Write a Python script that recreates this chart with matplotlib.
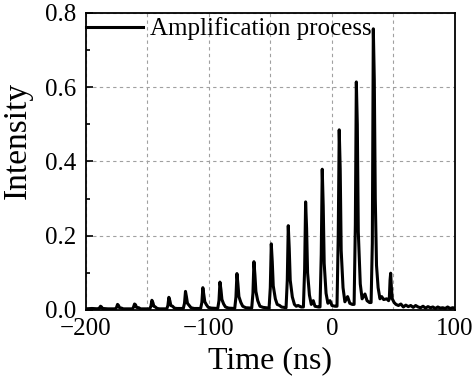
import matplotlib
matplotlib.use("Agg")
import matplotlib.pyplot as plt
from matplotlib.ticker import MultipleLocator

# trace (time in ns, intensity)
time_ns = [
    -200, -195, -189.5, -188.8, -188, -187.2, -186.4, -182,
    -176, -175, -174.2, -173.4, -172.6, -171, -169.5,
    -162, -161.2, -160.4, -159.6, -158.8, -157, -155.5,
    -148, -147.1, -146.3, -145.5, -144.7, -143.5, -142, -140,
    -134.2, -133.3, -132.5, -131.7, -130.9, -129.5, -128, -126,
    -120.8, -119.8, -119, -118.2, -117.4, -116, -114.5, -112,
    -106.7, -105.7, -104.9, -104.1, -103.3, -102, -100.5, -98,
    -92.8, -91.8, -91, -90.2, -89.4, -88, -86.5, -84,
    -79, -78, -77.2, -76.4, -75.6, -74, -72.5, -70,
    -65.2, -64.2, -63.4, -62.6, -61.8, -60.3, -58.5, -56,
    -51.1, -50.1, -49.3, -48.5, -47.7, -46, -44.5, -42.5, -41,
    -37.3, -36.3, -35.5, -34.7, -33.9, -32.2, -30.5, -29, -27.5, -25,
    -23.2, -22.2, -21.4, -20.6, -19.8, -18.3, -16.8, -15.2, -13.8, -11,
    -9.7, -8.7, -7.9, -7.1, -6.3, -4.8, -3.3, -1.6, 0, 2.5,
    4.1, 5.1, 5.9, 6.7, 7.5, 9, 10.5, 12.7, 14.5, 16.5,
    18, 19, 19.8, 20.6, 21.4, 23, 24.5, 26.8, 28.5, 30.5,
    31.8, 32.8, 33.6, 34.4, 35.2, 36.2, 37.5, 39, 40.4, 42, 44.5, 46,
    46.6, 47.2, 47.7, 48.3, 49, 50.5, 52,
    54, 56, 58, 60, 62, 64, 66, 68, 70, 72, 74, 76, 78, 80,
    82, 84, 86, 88, 90, 92, 94, 96, 98, 100,
]
intensity = [
    0.003, 0.004, 0.003, 0.006, 0.010, 0.008, 0.004, 0.003,
    0.003, 0.007, 0.015, 0.012, 0.006, 0.005, 0.003,
    0.003, 0.008, 0.016, 0.014, 0.007, 0.006, 0.003,
    0.003, 0.010, 0.026, 0.020, 0.010, 0.008, 0.004, 0.003,
    0.003, 0.012, 0.034, 0.025, 0.012, 0.010, 0.005, 0.004,
    0.004, 0.018, 0.050, 0.035, 0.018, 0.012, 0.006, 0.004,
    0.004, 0.020, 0.060, 0.042, 0.022, 0.014, 0.007, 0.005,
    0.004, 0.025, 0.075, 0.055, 0.028, 0.016, 0.008, 0.005,
    0.004, 0.035, 0.098, 0.070, 0.036, 0.020, 0.010, 0.006,
    0.005, 0.045, 0.130, 0.095, 0.050, 0.025, 0.010, 0.007,
    0.005, 0.060, 0.178, 0.130, 0.065, 0.030, 0.015, 0.012, 0.008,
    0.006, 0.080, 0.227, 0.165, 0.080, 0.035, 0.015, 0.010, 0.012, 0.008,
    0.008, 0.110, 0.291, 0.220, 0.100, 0.040, 0.015, 0.025, 0.010, 0.008,
    0.008, 0.150, 0.379, 0.280, 0.125, 0.045, 0.018, 0.025, 0.012, 0.010,
    0.010, 0.200, 0.485, 0.380, 0.160, 0.060, 0.022, 0.036, 0.018, 0.015,
    0.015, 0.230, 0.614, 0.500, 0.210, 0.070, 0.030, 0.043, 0.025, 0.020,
    0.020, 0.180, 0.757, 0.620, 0.300, 0.120, 0.060, 0.030, 0.036, 0.028, 0.030, 0.025,
    0.030, 0.080, 0.099, 0.060, 0.030, 0.020, 0.015,
    0.012, 0.016, 0.008, 0.013, 0.009, 0.012, 0.007, 0.012, 0.008, 0.006,
    0.010, 0.005, 0.009, 0.006, 0.008, 0.004, 0.008, 0.005, 0.006, 0.004,
    0.008, 0.004, 0.006, 0.005,
]

plt.rcParams['font.family'] = ['Liberation Serif', 'DejaVu Serif']
plt.rcParams['mathtext.fontset'] = 'stix'

fig = plt.figure(figsize=(4.74, 3.78), dpi=100)
ax = fig.add_axes([0.181, 0.180, 0.779, 0.786])

ax.plot(time_ns, intensity, color='black', lw=2.2, label='Amplification process')

ax.set_xlim(-200, 100)
ax.set_ylim(0, 0.8)
ax.xaxis.set_major_locator(MultipleLocator(100))
ax.xaxis.set_minor_locator(MultipleLocator(50))
ax.yaxis.set_major_locator(MultipleLocator(0.2))
ax.yaxis.set_minor_locator(MultipleLocator(0.1))
ax.set_yticklabels(['%.1f' % v for v in ax.get_yticks()])

ax.grid(True, which='both', axis='x', ls=(0, (3, 3)), color='#a0a0a0', lw=0.8)
ax.grid(True, which='major', axis='y', ls=(0, (3, 3)), color='#a0a0a0', lw=0.8)

ax.tick_params(which='both', direction='in', labelsize=18, width=1.2)
ax.tick_params(axis='y', which='major', length=5, pad=7)
ax.tick_params(axis='y', which='minor', length=3)
ax.tick_params(axis='x', which='both', length=0, pad=6)
for s in ax.spines.values():
    s.set_linewidth(1.3)

ax.set_xlabel('Time (ns)', fontsize=23, labelpad=4)
ax.set_ylabel('Intensity', fontsize=24)
ax.yaxis.set_label_coords(-0.143, 0.57)

ax.legend(loc='upper left', bbox_to_anchor=(0.0, 0.985), frameon=False, fontsize=18,
          handlelength=2.3, handletextpad=0.25, borderpad=0, borderaxespad=0)

fig.savefig('out.png', dpi=100)
